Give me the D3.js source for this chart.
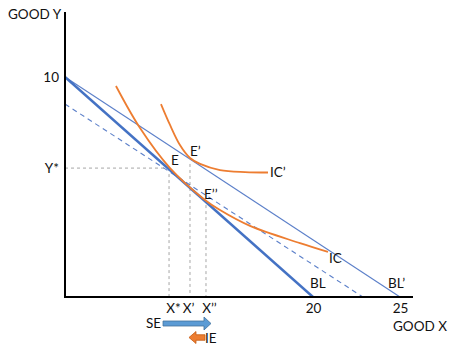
<!DOCTYPE html>
<html>
<head>
<meta charset="utf-8">
<script src="https://cdn.jsdelivr.net/npm/d3@7"></script>
<style>
  html, body { margin: 0; padding: 0; background: #fff; }
  svg { display: block; }
  text { font-family: Lato, "Open Sans", sans-serif; fill: #111; }
</style>
</head>
<body>
<svg id="chart" width="474" height="357"></svg>
<script>
// ---------- data ----------
const budgetBL      = [[0, 10], [20, 0]];
const budgetBLprime = [[0, 10], [25, 0]];
const budgetComp    = [[0, 8.77], [22.87, 0]];

const icPoints = [[4.11, 9.59], [6.05, 7.68], [8.47, 5.86], [11.29, 4.41],
                  [12.5, 3.95], [14.92, 3.23], [18.95, 2.45], [20.86, 2.05]];
const icPrimePoints = [[7.74, 8.77], [8.47, 7.82], [9.27, 6.91], [10.08, 6.32],
                       [10.89, 6.05], [12.5, 5.77], [14.52, 5.68], [16.37, 5.66]];

const pointNames  = ["E", "E\u2019", "E\u2019\u2019"];
const pointX      = [8.39, 10.08, 11.37];
const pointY      = [5.86, 6.32, 4.45];

const xTickValues = [8.39, 10.08, 11.37, 20, 25];
const xTickLabels = ["X*", "X\u2019", "X\u2019\u2019", "20", "25"];
const yTickValues = [10, 5.86];
const yTickLabels = ["10", "Y*"];

// ---------- scales ----------
const svg = d3.select("#chart");
const x = d3.scaleLinear().domain([0, 20, 25]).range([65, 313, 400]);
const y = d3.scaleLinear().domain([0, 10]).range([297, 77]);

const blue = "#4472C4", orange = "#ED7D31";
const line = d3.line().x(d => x(d[0])).y(d => y(d[1]));
const curve = d3.line().x(d => x(d[0])).y(d => y(d[1])).curve(d3.curveCatmullRom.alpha(0.5));

// ---------- guide dashes ----------
const guides = svg.append("g").attr("stroke", "#a6a6a6").attr("stroke-width", 1)
  .attr("stroke-dasharray", "3,3").attr("fill", "none");
guides.append("line").attr("x1", x(0)).attr("x2", x(pointX[0]))
  .attr("y1", y(pointY[0])).attr("y2", y(pointY[0]));
pointX.forEach((px, i) => {
  guides.append("line").attr("x1", x(px)).attr("x2", x(px))
    .attr("y1", y(pointY[i]) + (i === 0 ? 0 : 6)).attr("y2", y(0));
});

// ---------- budget lines ----------
svg.append("path").datum(budgetComp).attr("d", line).attr("fill", "none")
  .attr("stroke", "#5b7fc9").attr("stroke-width", 1.1).attr("stroke-dasharray", "5,4");
svg.append("path").datum(budgetBLprime).attr("d", line).attr("fill", "none")
  .attr("stroke", "#5b7fc9").attr("stroke-width", 1.1);
svg.append("path").datum(budgetBL).attr("d", line).attr("fill", "none")
  .attr("stroke", blue).attr("stroke-width", 2.4);

// ---------- indifference curves ----------
svg.append("path").datum(icPoints).attr("d", curve).attr("fill", "none")
  .attr("stroke", orange).attr("stroke-width", 1.8);
svg.append("path").datum(icPrimePoints).attr("d", curve).attr("fill", "none")
  .attr("stroke", orange).attr("stroke-width", 1.8);

// ---------- axes ----------
svg.append("line").attr("x1", x(0)).attr("x2", x(0)).attr("y1", 12).attr("y2", y(0))
  .attr("stroke", "#000").attr("stroke-width", 2);
svg.append("line").attr("x1", x(0) - 1).attr("x2", x(25) + 13).attr("y1", y(0)).attr("y2", y(0))
  .attr("stroke", "#000").attr("stroke-width", 2);

const xAxis = svg.append("g").attr("transform", `translate(0,${y(0)})`)
  .call(d3.axisBottom(x).tickValues(xTickValues).tickSize(0).tickPadding(6)
    .tickFormat((d, i) => xTickLabels[i]));
xAxis.select(".domain").remove();
xAxis.selectAll("text").attr("font-size", 13.5).attr("fill", "#111")
  .attr("font-family", "Lato, sans-serif")
  .attr("dx", (d, i) => [4, -2, 3, 0, 0][i]);

const yAxis = svg.append("g").attr("transform", `translate(${x(0)},0)`)
  .call(d3.axisLeft(y).tickValues(yTickValues).tickSize(0).tickPadding(6)
    .tickFormat((d, i) => yTickLabels[i]));
yAxis.select(".domain").remove();
yAxis.selectAll("text").attr("font-size", 13.5).attr("fill", "#111")
  .attr("font-family", "Lato, sans-serif");

svg.append("text").attr("x", 8).attr("y", 19).attr("font-size", 13.5).text("GOOD Y");
svg.append("text").attr("x", 393).attr("y", 331).attr("font-size", 13.5).text("GOOD X");

// ---------- curve / line labels ----------
svg.append("text").attr("x", x(20) - 3).attr("y", 288).attr("font-size", 13.5).text("BL");
svg.append("text").attr("x", x(25) - 12).attr("y", 288).attr("font-size", 13.5).text("BL\u2019");
svg.append("text").attr("x", x(icPoints[icPoints.length - 1][0]) + 1)
  .attr("y", y(icPoints[icPoints.length - 1][1]) + 11).attr("font-size", 13.5).text("IC");
svg.append("text").attr("x", x(icPrimePoints[icPrimePoints.length - 1][0]) + 2)
  .attr("y", y(icPrimePoints[icPrimePoints.length - 1][1]) + 5).attr("font-size", 13.5).text("IC\u2019");

const ptOffsets = [[2, -2], [0, -1], [-2, 1]];
pointNames.forEach((n, i) => {
  svg.append("text").attr("x", x(pointX[i]) + ptOffsets[i][0])
    .attr("y", y(pointY[i]) + ptOffsets[i][1] - 1).attr("font-size", 13.5).text(n);
});

// ---------- SE / IE arrows ----------
function arrow(x0, x1, cy, body, head, headLen, fill, stroke) {
  const dir = x1 > x0 ? 1 : -1;
  const hb = x1 - dir * headLen;
  const pts = [[x0, cy - body / 2], [hb, cy - body / 2], [hb, cy - head / 2], [x1, cy],
               [hb, cy + head / 2], [hb, cy + body / 2], [x0, cy + body / 2]];
  svg.append("path").attr("d", "M" + pts.map(p => p.join(",")).join("L") + "Z")
    .attr("fill", fill).attr("stroke", stroke).attr("stroke-width", 0.8);
}
arrow(x(pointX[0]) - 6, x(pointX[2]) + 5, 323.5, 5, 13, 7, "#5B9BD5", "#41719C");
arrow(x(pointX[2]) - 1, x(pointX[1]) - 1, 337.5, 5.5, 12, 7, orange, "#c55a11");
svg.append("text").attr("x", 146).attr("y", 328).attr("font-size", 13.5).text("SE");
svg.append("text").attr("x", 205).attr("y", 343).attr("font-size", 13.5).text("IE");
</script>
</body>
</html>
